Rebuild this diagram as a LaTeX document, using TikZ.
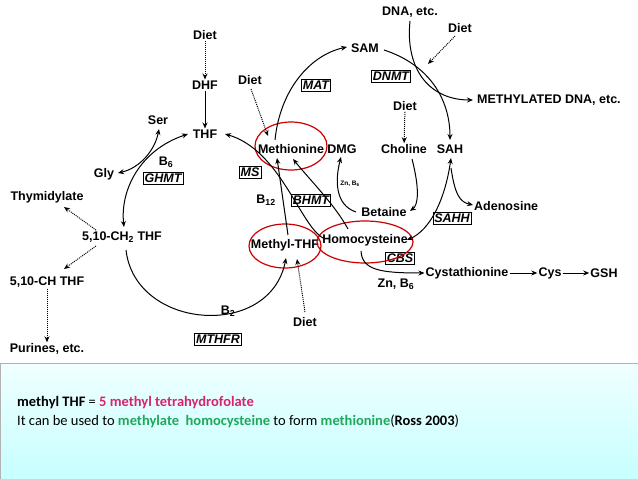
\documentclass[tikz,border=0pt]{standalone}
\usepackage{fontspec}
\setmainfont{Liberation Sans}
\newfontfamily\calfont{Carlito}
\usetikzlibrary{arrows.meta}
\definecolor{mag}{HTML}{D6246E}
\definecolor{grn}{HTML}{1FA85A}
\newcommand{\sbs}[1]{\textsubscript{#1}}
\begin{document}
\begin{tikzpicture}[x=1pt,y=-1pt,
 lbl/.style={font=\bfseries\fontsize{12.5}{13}\selectfont,inner sep=1pt},
 enz/.style={draw,font=\bfseries\itshape\fontsize{12.5}{13}\selectfont,inner sep=1.5pt,line width=0.4pt},
 ring/.style={draw=red!80!black,line width=1.2pt},
 arr/.style={-{Stealth[length=6pt,width=5pt]},line width=1pt},
 dot/.style={-{Stealth[length=6pt,width=5pt]},line width=1pt,densely dotted},
 darr/.style={{Stealth[length=6pt,width=5pt]}-{Stealth[length=6pt,width=5pt]},line width=1pt}]
\useasboundingbox (0,0) rectangle (638,479);
% bottom box
\shade[top color=cyan!6,bottom color=cyan!22,draw=gray!60] (0,363) rectangle (638,479);
\node[anchor=west,font=\calfont\fontsize{14.5}{17}\selectfont,inner sep=0] (t1) at (17,403) {\textbf{methyl THF} = \textcolor{mag}{\textbf{5 methyl tetrahydrofolate}}};
\node[anchor=west,font=\calfont\fontsize{14.5}{17}\selectfont,inner sep=0] (t2) at (17,421) {It can be used to \textcolor{grn}{\textbf{methylate\ \ homocysteine}} to form \textcolor{grn}{\textbf{methionine}}(\textbf{Ross 2003})};
% nodes
\node[lbl] (diet1) at (205,35) {Diet};
\node[lbl] (dhf) at (205,85) {DHF};
\node[lbl] (thf) at (205,134) {THF};
\node[lbl] (ser) at (158,120) {Ser};
\node[lbl] (gly) at (104,174) {Gly};
\node[lbl] (b6a) at (166,162) {B\sbs{6}};
\node[enz] (ghmt) at (163,178) {GHMT};
\node[lbl] (thy) at (47,197) {Thymidylate};
\node[lbl] (ch2) at (122,237) {5,10-CH\sbs{2} THF};
\node[lbl] (ch) at (47,282) {5,10-CH THF};
\node[lbl] (pur) at (47,349) {Purines, etc.};
\node[lbl] (diet2) at (250,80) {Diet};
\node[lbl] (met) at (291,149) {Methionine};
\node[enz] (ms) at (250,172) {MS};
\node[lbl] (b12) at (266,200) {B\sbs{12}};
\node[enz] (bhmt) at (311,200) {BHMT};
\node[lbl] (mthf) at (285,245) {Methyl-THF};
\node[lbl] (diet3) at (305,322) {Diet};
\node[lbl] (b2) at (228,311) {B\sbs{2}};
\node[enz] (mthfr) at (218,339) {MTHFR};
\node[enz] (mat) at (316,85) {MAT};
\node[lbl] (sam) at (365,48) {SAM};
\node[lbl] (dna) at (410,12) {DNA, etc.};
\node[lbl] (diet4) at (460,28) {Diet};
\node[enz] (dnmt) at (391,76) {DNMT};
\node[lbl,anchor=west] (mdna) at (476,100) {METHYLATED DNA, etc.};
\node[lbl] (diet5) at (405,106) {Diet};
\node[lbl] (dmg) at (342,149) {DMG};
\node[lbl] (cho) at (404,149) {Choline};
\node[lbl] (sah) at (450,149) {SAH};
\node[lbl,font=\bfseries\fontsize{6.5}{7}\selectfont] (znb) at (350,184) {Zn, B\sbs{6}};
\node[lbl] (bet) at (384,212) {Betaine};
\node[lbl,anchor=west] (ade) at (473,206) {Adenosine};
\node[enz] (sahh) at (452,218) {SAHH};
\node[lbl] (hcy) at (365,240) {Homocysteine};
\node[enz] (cbs) at (400,258) {CBS};
\node[lbl] (cysta) at (467,273) {Cystathionine};
\node[lbl] (cys) at (550,273) {Cys};
\node[lbl] (gsh) at (604,273) {GSH};
\node[lbl] (znb2) at (396,284) {Zn, B\sbs{6}};
% rings
\draw[ring] (291,146) ellipse (36 and 24);
\draw[ring] (285,246) ellipse (36 and 22);
\draw[ring] (365,242) ellipse (48 and 21);
% arrows
\draw[dot] (diet1) -- (dhf);
\draw[arr] (dhf) -- (thf);
\draw[darr] (188,134) .. controls (140,150) and (120,190) .. (124,227);
\draw[darr] (118,173) .. controls (140,168) and (155,150) .. (159,129);
\draw[arr] (126,250) .. controls (135,330) and (270,340) .. (286,258);
\draw[arr] (288,235) -- (277,158);
\draw[arr] (323,238) .. controls (300,225) and (280,150) .. (225,134);
\draw[arr] (348,229) .. controls (335,205) and (310,180) .. (293,159);
\draw[arr] (275,140) .. controls (280,90) and (310,55) .. (347,47);
\draw[arr] (384,50) .. controls (430,65) and (450,100) .. (450,140);
\draw[arr] (410,21) .. controls (405,70) and (430,100) .. (473,100);
\draw[dot] (455,36) -- (428,64);
\draw[dot] (251,89) -- (268,136);
\draw[dot] (diet5) -- (cho);
\draw[arr] (412,159) .. controls (420,190) and (418,205) .. (410,211);
\draw[arr] (356,212) .. controls (335,205) and (335,180) .. (341,157);
\draw[darr] (451,158) .. controls (445,200) and (430,230) .. (407,240);
\draw[arr] (451,168) .. controls (455,195) and (460,202) .. (473,205);
\draw[arr] (361,251) .. controls (362,270) and (380,273) .. (cysta.west);
\draw[arr] (cysta) -- (cys);
\draw[arr] (cys) -- (gsh);
\draw[dot] (305,312) -- (297,259);
\draw[dot] (96,230) -- (64,207);
\draw[dot] (96,246) -- (64,269);
\draw[dot] (ch) -- (pur);
\end{tikzpicture}
\end{document}
